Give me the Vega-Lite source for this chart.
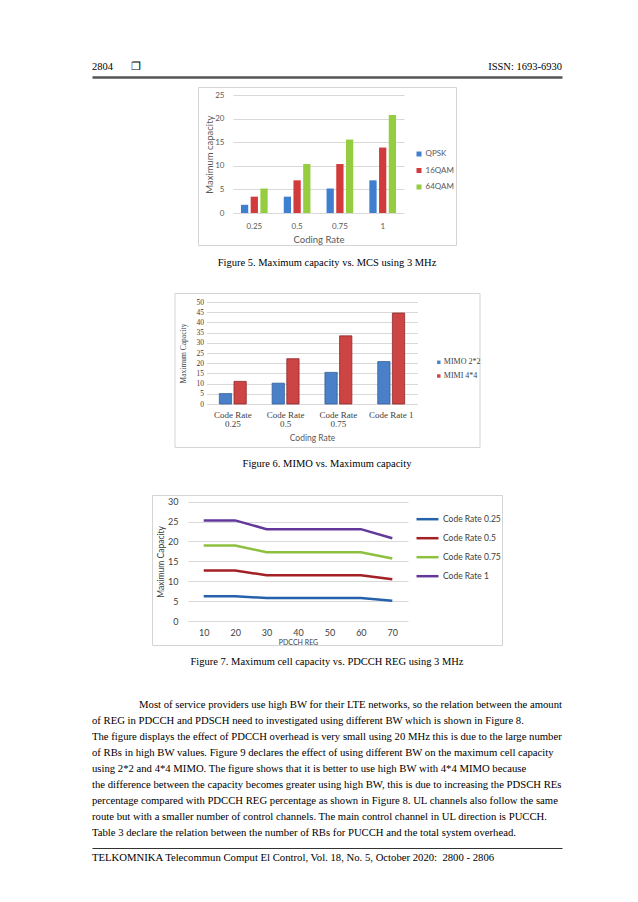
{
  "$schema": "https://vega.github.io/schema/vega-lite/v6.json",
  "background": "white",
  "padding": {"left": 92, "top": 56, "right": 76, "bottom": 34},
  "spacing": 0,
  "bounds": "flush",
  "center": true,
  "resolve": {"scale": {"x": "independent", "y": "independent", "color": "independent", "stroke": "independent", "xOffset": "independent"}, "legend": {"color": "independent"}},
  "config": {"view": {"stroke": null}, "text": {"font": "Liberation Serif", "fontSize": 10.5, "color": "#000000"}},
  "vconcat": [
    {
      "width": 470, "height": 21,
      "layer": [
        {
          "data": {"values": [{"t": "2804\u00a0\u00a0\u00a0\u00a0\u00a0\u00a0\u00a0\u2750"}]},
          "mark": {"type": "text", "align": "left", "font": "Liberation Serif", "fontSize": 10.5},
          "encoding": {
            "x": {"datum": "left", "type": "nominal", "scale": {"type": "point", "domain": ["left", "right"], "padding": 0},
                  "axis": {"orient": "bottom", "domain": true, "domainColor": "#555555", "domainWidth": 2.5, "labels": false, "ticks": false, "grid": false, "title": null}},
            "text": {"field": "t"}
          }
        },
        {
          "data": {"values": [{"t": "ISSN: 1693-6930"}]},
          "mark": {"type": "text", "align": "right", "font": "Liberation Serif", "fontSize": 10.5},
          "encoding": {
            "x": {"datum": "right", "type": "nominal"},
            "text": {"field": "t"}
          }
        }
      ]
    },
    {"width": 470, "height": 10, "data": {"values": [{}]}, "mark": "text", "encoding": {"text": {"value": ""}}},
    {
      "width": 258, "height": 158,
      "view": {"stroke": "#d4d4d4", "strokeWidth": 1},
      "data": {"values": [
        {"rate": "0.25", "mod": "QPSK", "cap": 1.74},
        {"rate": "0.5", "mod": "QPSK", "cap": 3.47},
        {"rate": "0.75", "mod": "QPSK", "cap": 5.2},
        {"rate": "1", "mod": "QPSK", "cap": 6.94},
        {"rate": "0.25", "mod": "16QAM", "cap": 3.47},
        {"rate": "0.5", "mod": "16QAM", "cap": 6.94},
        {"rate": "0.75", "mod": "16QAM", "cap": 10.4},
        {"rate": "1", "mod": "16QAM", "cap": 13.9},
        {"rate": "0.25", "mod": "64QAM", "cap": 5.2},
        {"rate": "0.5", "mod": "64QAM", "cap": 10.4},
        {"rate": "0.75", "mod": "64QAM", "cap": 15.6},
        {"rate": "1", "mod": "64QAM", "cap": 20.8}
      ]},
      "mark": {"type": "bar"},
      "encoding": {
        "x": {"field": "rate", "type": "ordinal", "sort": ["0.25", "0.5", "0.75", "1"],
              "scale": {"range": [35, 206], "paddingInner": 0.376, "paddingOuter": 0.186},
              "axis": {"title": "Coding Rate", "offset": -32, "labelAngle": 0, "labelPadding": 9, "ticks": false, "domain": false, "grid": false,
                       "labelFont": "Lato", "labelFontSize": 8, "labelColor": "#595959",
                       "titleFont": "Lato", "titleFontSize": 9.5, "titleFontWeight": "normal", "titleColor": "#595959", "titleY": 26, "titleBaseline": "middle"}},
        "xOffset": {"field": "mod", "type": "nominal", "sort": ["QPSK", "16QAM", "64QAM"], "scale": {"paddingInner": 0.25, "paddingOuter": 0}},
        "y": {"field": "cap", "type": "quantitative", "scale": {"domain": [0, 25], "range": [126, 8.3], "nice": false},
              "axis": {"values": [0, 5, 10, 15, 20, 25], "offset": -29, "ticks": false, "domain": false, "grid": true, "gridColor": "#d9d9d9", "gridWidth": 1, "labelPadding": 3,
                       "labelFont": "Lato", "labelFontSize": 8, "labelColor": "#595959",
                       "title": "Maximum capacity", "titleFont": "Lato", "titleFontSize": 9.5, "titleFontWeight": "normal", "titleColor": "#595959", "titleX": -18, "titleBaseline": "middle"}},
        "color": {"field": "mod", "type": "nominal", "sort": ["QPSK", "16QAM", "64QAM"],
                  "scale": {"domain": ["QPSK", "16QAM", "64QAM"], "range": ["#3f7fd0", "#d13b3b", "#95cd41"]},
                  "legend": {"title": null, "orient": "none", "legendX": 217, "legendY": 63, "symbolType": "square", "symbolSize": 25, "symbolStrokeWidth": 0,
                             "labelFont": "Lato", "labelFontSize": 8, "labelColor": "#595959", "labelOffset": 2.5, "rowPadding": 8.5, "padding": 0}}
      }
    },
    {"width": 470, "height": 36, "data": {"values": [{"t": "Figure 5. Maximum capacity vs. MCS using 3 MHz"}]}, "mark": {"type": "text", "font": "Liberation Serif", "fontSize": 10.5}, "encoding": {"text": {"field": "t"}}},
    {"width": 470, "height": 12, "data": {"values": [{}]}, "mark": "text", "encoding": {"text": {"value": ""}}},
    {
      "width": 305, "height": 154,
      "view": {"stroke": "#d4d4d4", "strokeWidth": 1},
      "data": {"values": [
        {"cr": "Code Rate 0.25", "mimo": "MIMO 2*2", "cap": 5.1},
        {"cr": "Code Rate 0.5", "mimo": "MIMO 2*2", "cap": 10.2},
        {"cr": "Code Rate 0.75", "mimo": "MIMO 2*2", "cap": 15.5},
        {"cr": "Code Rate 1", "mimo": "MIMO 2*2", "cap": 20.8},
        {"cr": "Code Rate 0.25", "mimo": "MIMI 4*4", "cap": 11.1},
        {"cr": "Code Rate 0.5", "mimo": "MIMI 4*4", "cap": 22.2},
        {"cr": "Code Rate 0.75", "mimo": "MIMI 4*4", "cap": 33.4},
        {"cr": "Code Rate 1", "mimo": "MIMI 4*4", "cap": 44.6}
      ]},
      "mark": {"type": "bar", "strokeWidth": 0.8},
      "encoding": {
        "x": {"field": "cr", "type": "ordinal", "sort": ["Code Rate 0.25", "Code Rate 0.5", "Code Rate 0.75", "Code Rate 1"],
              "scale": {"range": [32, 243], "paddingInner": 0.49, "paddingOuter": 0.243},
              "axis": {"title": "Coding Rate", "offset": -43, "labelAngle": 0, "labelPadding": 6.5, "ticks": false, "domain": false, "grid": false,
                       "labelExpr": "datum.value == 'Code Rate 1' ? datum.value : ['Code Rate', slice(datum.value, 10)]",
                       "labelLineHeight": 9, "labelFont": "Liberation Serif", "labelFontSize": 9, "labelColor": "#404040",
                       "titleFont": "Lato", "titleFontSize": 8.5, "titleFontWeight": "normal", "titleColor": "#595959", "titleY": 33.7, "titleBaseline": "middle"}},
        "xOffset": {"field": "mimo", "type": "nominal", "sort": ["MIMO 2*2", "MIMI 4*4"], "scale": {"paddingInner": 0.163, "paddingOuter": 0}},
        "y": {"field": "cap", "type": "quantitative", "scale": {"domain": [0, 50], "range": [111, 9], "nice": false},
              "axis": {"values": [0, 5, 10, 15, 20, 25, 30, 35, 40, 45, 50], "offset": -32, "ticks": false, "domain": false, "grid": true, "gridColor": "#d9d9d9", "gridWidth": 1, "labelPadding": 3,
                       "labelFont": "Liberation Serif", "labelFontSize": 7.5, "labelColor": "#404040",
                       "title": "Maximum Capacity", "titleFont": "Liberation Serif", "titleFontSize": 7.5, "titleFontWeight": "normal", "titleColor": "#404040", "titleX": -23.3, "titleBaseline": "middle"}},
        "color": {"field": "mimo", "type": "nominal",
                  "scale": {"domain": ["MIMO 2*2", "MIMI 4*4"], "range": ["#4a80c8", "#cc4444"]},
                  "legend": {"title": null, "orient": "none", "legendX": 260.3, "legendY": 65.3, "symbolType": "square", "symbolSize": 12, "symbolStrokeWidth": 0,
                             "labelFont": "Liberation Serif", "labelFontSize": 8, "labelColor": "#404040", "labelOffset": 1, "rowPadding": 5.7, "padding": 0}},
        "stroke": {"field": "mimo", "type": "nominal", "scale": {"domain": ["MIMO 2*2", "MIMI 4*4"], "range": ["#35609a", "#8e2a2a"]}, "legend": null}
      }
    },
    {"width": 470, "height": 34, "data": {"values": [{"t": "Figure 6. MIMO vs. Maximum capacity"}]}, "mark": {"type": "text", "font": "Liberation Serif", "fontSize": 10.5}, "encoding": {"text": {"field": "t"}}},
    {"width": 470, "height": 14, "data": {"values": [{}]}, "mark": "text", "encoding": {"text": {"value": ""}}},
    {
      "width": 350, "height": 150,
      "view": {"stroke": "#d4d4d4", "strokeWidth": 1},
      "data": {"values": [
        {"reg": 10, "s": "Code Rate 0.25", "cap": 6.2}, {"reg": 20, "s": "Code Rate 0.25", "cap": 6.2}, {"reg": 30, "s": "Code Rate 0.25", "cap": 5.8}, {"reg": 40, "s": "Code Rate 0.25", "cap": 5.8}, {"reg": 50, "s": "Code Rate 0.25", "cap": 5.8}, {"reg": 60, "s": "Code Rate 0.25", "cap": 5.8}, {"reg": 70, "s": "Code Rate 0.25", "cap": 5.1},
        {"reg": 10, "s": "Code Rate 0.5", "cap": 12.7}, {"reg": 20, "s": "Code Rate 0.5", "cap": 12.7}, {"reg": 30, "s": "Code Rate 0.5", "cap": 11.5}, {"reg": 40, "s": "Code Rate 0.5", "cap": 11.5}, {"reg": 50, "s": "Code Rate 0.5", "cap": 11.5}, {"reg": 60, "s": "Code Rate 0.5", "cap": 11.5}, {"reg": 70, "s": "Code Rate 0.5", "cap": 10.5},
        {"reg": 10, "s": "Code Rate 0.75", "cap": 19.0}, {"reg": 20, "s": "Code Rate 0.75", "cap": 19.0}, {"reg": 30, "s": "Code Rate 0.75", "cap": 17.3}, {"reg": 40, "s": "Code Rate 0.75", "cap": 17.3}, {"reg": 50, "s": "Code Rate 0.75", "cap": 17.3}, {"reg": 60, "s": "Code Rate 0.75", "cap": 17.3}, {"reg": 70, "s": "Code Rate 0.75", "cap": 15.7},
        {"reg": 10, "s": "Code Rate 1", "cap": 25.3}, {"reg": 20, "s": "Code Rate 1", "cap": 25.3}, {"reg": 30, "s": "Code Rate 1", "cap": 23.1}, {"reg": 40, "s": "Code Rate 1", "cap": 23.1}, {"reg": 50, "s": "Code Rate 1", "cap": 23.1}, {"reg": 60, "s": "Code Rate 1", "cap": 23.1}, {"reg": 70, "s": "Code Rate 1", "cap": 20.8}
      ]},
      "mark": {"type": "line", "strokeWidth": 2.5},
      "encoding": {
        "x": {"field": "reg", "type": "ordinal",
              "scale": {"type": "point", "range": [36, 256], "padding": 0.5},
              "axis": {"title": "PDCCH REG", "offset": -24, "labelAngle": 0, "labelPadding": 7.5, "ticks": false, "domain": false, "grid": false,
                       "labelFont": "Lato", "labelFontSize": 9, "labelColor": "#404040",
                       "titleFont": "Lato", "titleFontSize": 7, "titleFontWeight": "normal", "titleColor": "#404040", "titleY": 21.5, "titleBaseline": "middle"}},
        "y": {"field": "cap", "type": "quantitative", "scale": {"domain": [0, 30], "range": [126, 6.7], "nice": false},
              "axis": {"values": [0, 5, 10, 15, 20, 25, 30], "offset": -29, "ticks": false, "domain": false, "grid": true, "gridColor": "#d9d9d9", "gridWidth": 1, "labelPadding": 3,
                       "labelFont": "Lato", "labelFontSize": 9, "labelColor": "#404040",
                       "title": "Maximum Capacity", "titleFont": "Lato", "titleFontSize": 8.5, "titleFontWeight": "normal", "titleColor": "#404040", "titleX": -21, "titleBaseline": "middle"}},
        "color": {"field": "s", "type": "nominal",
                  "scale": {"domain": ["Code Rate 0.25", "Code Rate 0.5", "Code Rate 0.75", "Code Rate 1"], "range": ["#2662ac", "#a32124", "#8dc03f", "#62389a"]},
                  "legend": {"title": null, "orient": "none", "legendX": 263, "legendY": 11.7, "symbolType": "stroke", "symbolSize": 484, "symbolStrokeWidth": 2.5,
                             "labelFont": "Lato", "labelFontSize": 8.5, "labelColor": "#404040", "labelOffset": 3, "rowPadding": 1, "padding": 0}}
      }
    },
    {"width": 470, "height": 34, "data": {"values": [{"t": "Figure 7. Maximum cell capacity vs. PDCCH REG using 3 MHz"}]}, "mark": {"type": "text", "font": "Liberation Serif", "fontSize": 10.5}, "encoding": {"text": {"field": "t"}}},
    {"width": 470, "height": 18, "data": {"values": [{}]}, "mark": "text", "encoding": {"text": {"value": ""}}},
    {
      "width": 470, "height": 144,
      "data": {"values": [
        {"line": 1, "text": "Most of service providers use high BW for their LTE networks, so the relation between the amount"},
        {"line": 2, "text": "of REG in PDCCH and PDSCH need to investigated using different BW which is shown in Figure 8."},
        {"line": 3, "text": "The figure displays the effect of PDCCH overhead is very small using 20 MHz this is due to the large number"},
        {"line": 4, "text": "of RBs in high BW values. Figure 9 declares the effect of using different BW on the maximum cell capacity"},
        {"line": 5, "text": "using 2*2 and 4*4 MIMO. The figure shows that it is better to use high BW with 4*4 MIMO because"},
        {"line": 6, "text": "the difference between the capacity becomes greater using high BW, this is due to increasing the PDSCH REs"},
        {"line": 7, "text": "percentage compared with PDCCH REG percentage as shown in Figure 8. UL channels also follow the same"},
        {"line": 8, "text": "route but with a smaller number of control channels. The main control channel in UL direction is PUCCH."},
        {"line": 9, "text": "Table 3 declare the relation between the number of RBs for PUCCH and the total system overhead."}
      ]},
      "layer": [
        {
          "transform": [{"filter": "datum.line == 1"}],
          "mark": {"type": "text", "align": "right", "font": "Liberation Serif", "fontSize": 10.7},
          "encoding": {
            "x": {"datum": "right", "type": "nominal", "scale": {"type": "point", "domain": ["left", "right"], "padding": 0}, "axis": null},
            "y": {"field": "line", "type": "ordinal", "scale": {"type": "point", "domain": [1, 2, 3, 4, 5, 6, 7, 8, 9], "padding": 0.5}, "axis": null},
            "text": {"field": "text"}
          }
        },
        {
          "transform": [{"filter": "datum.line > 1"}],
          "mark": {"type": "text", "align": "left", "font": "Liberation Serif", "fontSize": 10.7},
          "encoding": {
            "x": {"datum": "left", "type": "nominal"},
            "y": {"field": "line", "type": "ordinal"},
            "text": {"field": "text"}
          }
        }
      ]
    },
    {"width": 470, "height": 7, "data": {"values": [{}]}, "mark": "text", "encoding": {"text": {"value": ""}}},
    {
      "width": 470, "height": 20,
      "data": {"values": [{"t": "TELKOMNIKA Telecommun Comput El Control, Vol. 18, No. 5, October 2020:\u00a0 2800 - 2806"}]},
      "mark": {"type": "text", "align": "left", "font": "Liberation Serif", "fontSize": 10.7},
      "encoding": {
        "x": {"datum": "left", "type": "nominal", "scale": {"type": "point", "domain": ["left", "right"], "padding": 0},
              "axis": {"orient": "top", "domain": true, "domainColor": "#333333", "domainWidth": 1, "labels": false, "ticks": false, "grid": false, "title": null}},
        "text": {"field": "t"}
      }
    }
  ]
}
